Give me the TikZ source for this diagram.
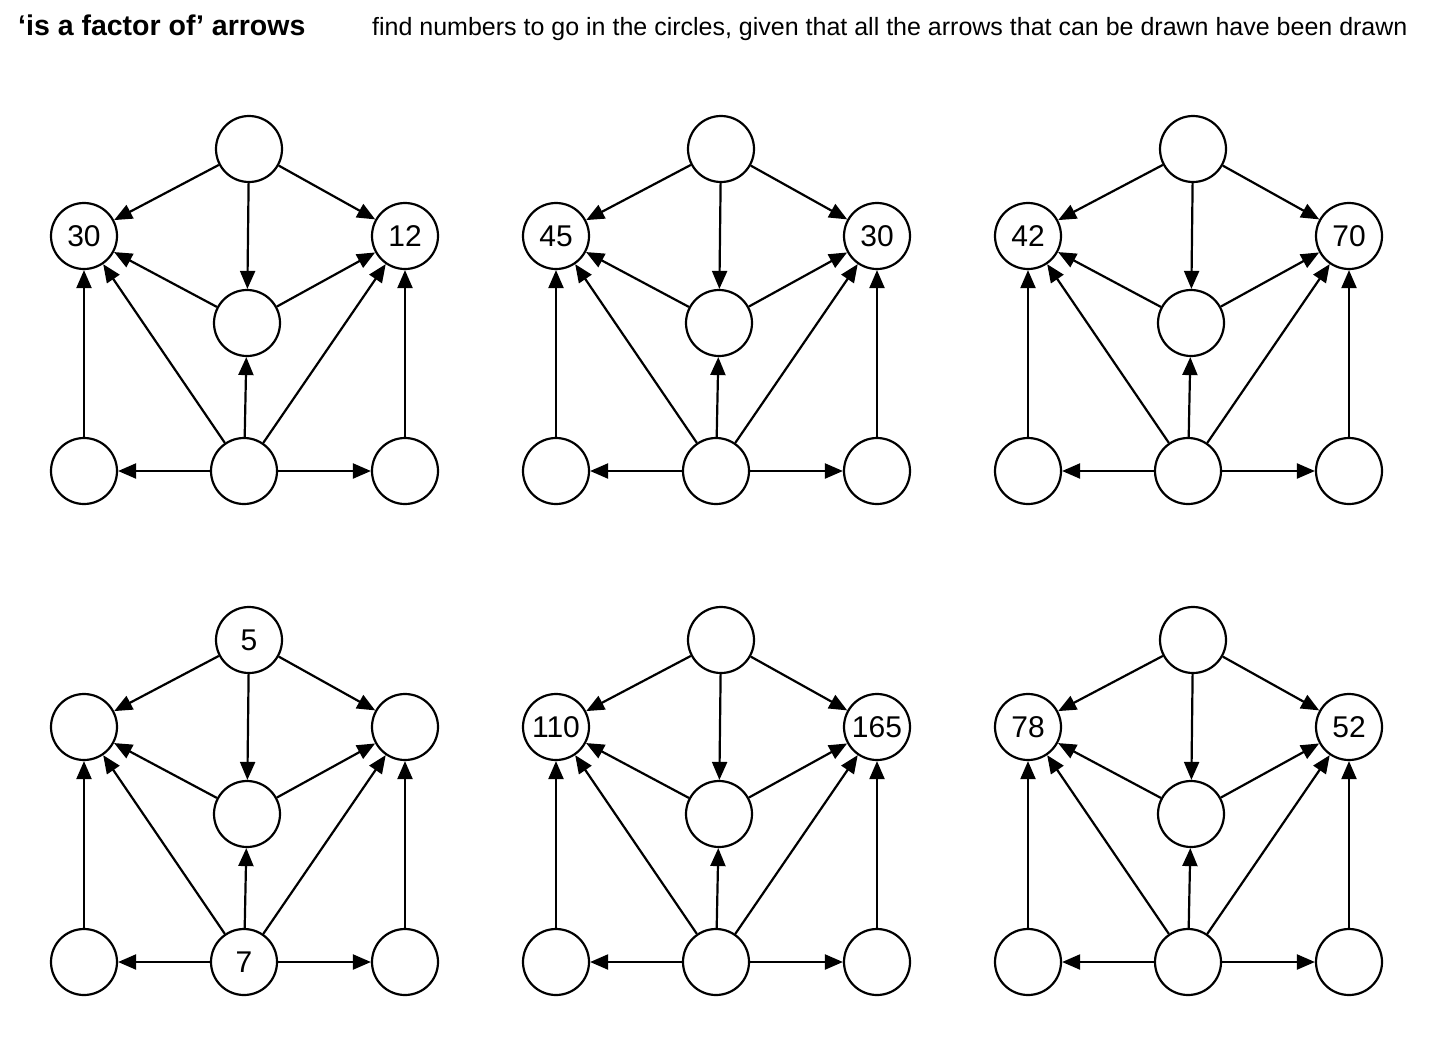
\documentclass[tikz,border=0pt]{standalone}
\usepackage{fontspec}
\setmainfont{Liberation Sans}
\usetikzlibrary{arrows.meta}
\tikzset{
  circ/.style={circle,draw,line width=2.2pt,minimum size=66pt,inner sep=0pt,font=\fontsize{30}{31}\selectfont},
  arr/.style={line width=2.2pt,-{Triangle[length=18pt,width=15pt]}},
}
\newcommand\fgraph[9]{%
\begin{scope}[shift={(#2,#3)}]
\node[circ] (#1T) at (249,149) {#4};
\node[circ] (#1L) at (84,236) {#5};
\node[circ] (#1R) at (405,236) {#6};
\node[circ] (#1C) at (247,323) {#7};
\node[circ] (#1BL) at (84,471) {#8};
\node[circ] (#1BM) at (244,471) {#9};
\node[circ] (#1BR) at (405,471) {};
\draw[arr] (#1T) -- (#1L);
\draw[arr] (#1T) -- (#1C);
\draw[arr] (#1T) -- (#1R);
\draw[arr] (#1C) -- (#1L);
\draw[arr] (#1C) -- (#1R);
\draw[arr] (#1BL) -- (#1L);
\draw[arr] (#1BM) -- (#1L);
\draw[arr] (#1BM) -- (#1C);
\draw[arr] (#1BM) -- (#1R);
\draw[arr] (#1BR) -- (#1R);
\draw[arr] (#1BM) -- (#1BL);
\draw[arr] (#1BM) -- (#1BR);
\end{scope}}
\begin{document}
\begin{tikzpicture}[x=1pt,y=-1pt]
\useasboundingbox[fill=white] (0,0) rectangle (1432,1060);
\node[anchor=base west,font=\bfseries\fontsize{28.5}{30}\selectfont,inner sep=0pt] (title) at (18,35) {‘is a factor of’ arrows};
\node[anchor=base west,font=\fontsize{25}{27}\selectfont,inner sep=0pt] (sub) at (372,35) {find numbers to go in the circles, given that all the arrows that can be drawn have been drawn};
\fgraph{a}{0}{0}{}{30}{12}{}{}{}
\fgraph{b}{472}{0}{}{45}{30}{}{}{}
\fgraph{c}{944}{0}{}{42}{70}{}{}{}
\fgraph{d}{0}{491}{5}{}{}{}{}{7}
\fgraph{e}{472}{491}{}{110}{165}{}{}{}
\fgraph{f}{944}{491}{}{78}{52}{}{}{}
\end{tikzpicture}
\end{document}
